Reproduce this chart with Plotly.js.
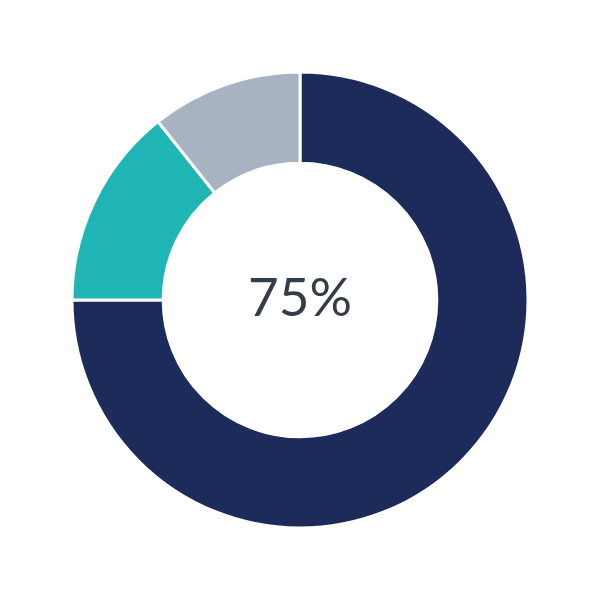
<!DOCTYPE html>
<html>
<head>
<meta charset="utf-8">
<script src="https://cdn.plot.ly/plotly-3.0.1.min.js"></script>
<style>html,body{margin:0;padding:0;background:#fff;}#chart{width:600px;height:600px;}</style>
</head>
<body>
<div id="chart"></div>
<script>
const labels = ["Segment A", "Segment B", "Segment C"];
const values = [75, 14.3, 10.7];
const colors = ["#1c2b5a", "#1fb5b5", "#a8b3c2"];
const centerText = "75%";

Plotly.newPlot("chart", [{
  type: "pie",
  labels: labels,
  values: values,
  hole: 0.6,
  sort: false,
  direction: "clockwise",
  rotation: 0,
  textinfo: "none",
  hoverinfo: "none",
  marker: {colors: colors, line: {color: "#ffffff", width: 3}},
  domain: {x: [0, 1], y: [0, 1]}
}], {
  width: 600,
  height: 600,
  margin: {l: 72, r: 72, t: 72, b: 72},
  showlegend: false,
  paper_bgcolor: "#ffffff",
  annotations: [{
    text: centerText,
    x: 0.5, y: 0.5, xref: "paper", yref: "paper",
    yshift: 5,
    showarrow: false,
    font: {family: "Lato", size: 53, color: "#353d47"}
  }]
}, {displayModeBar: false, staticPlot: true});
</script>
</body>
</html>
